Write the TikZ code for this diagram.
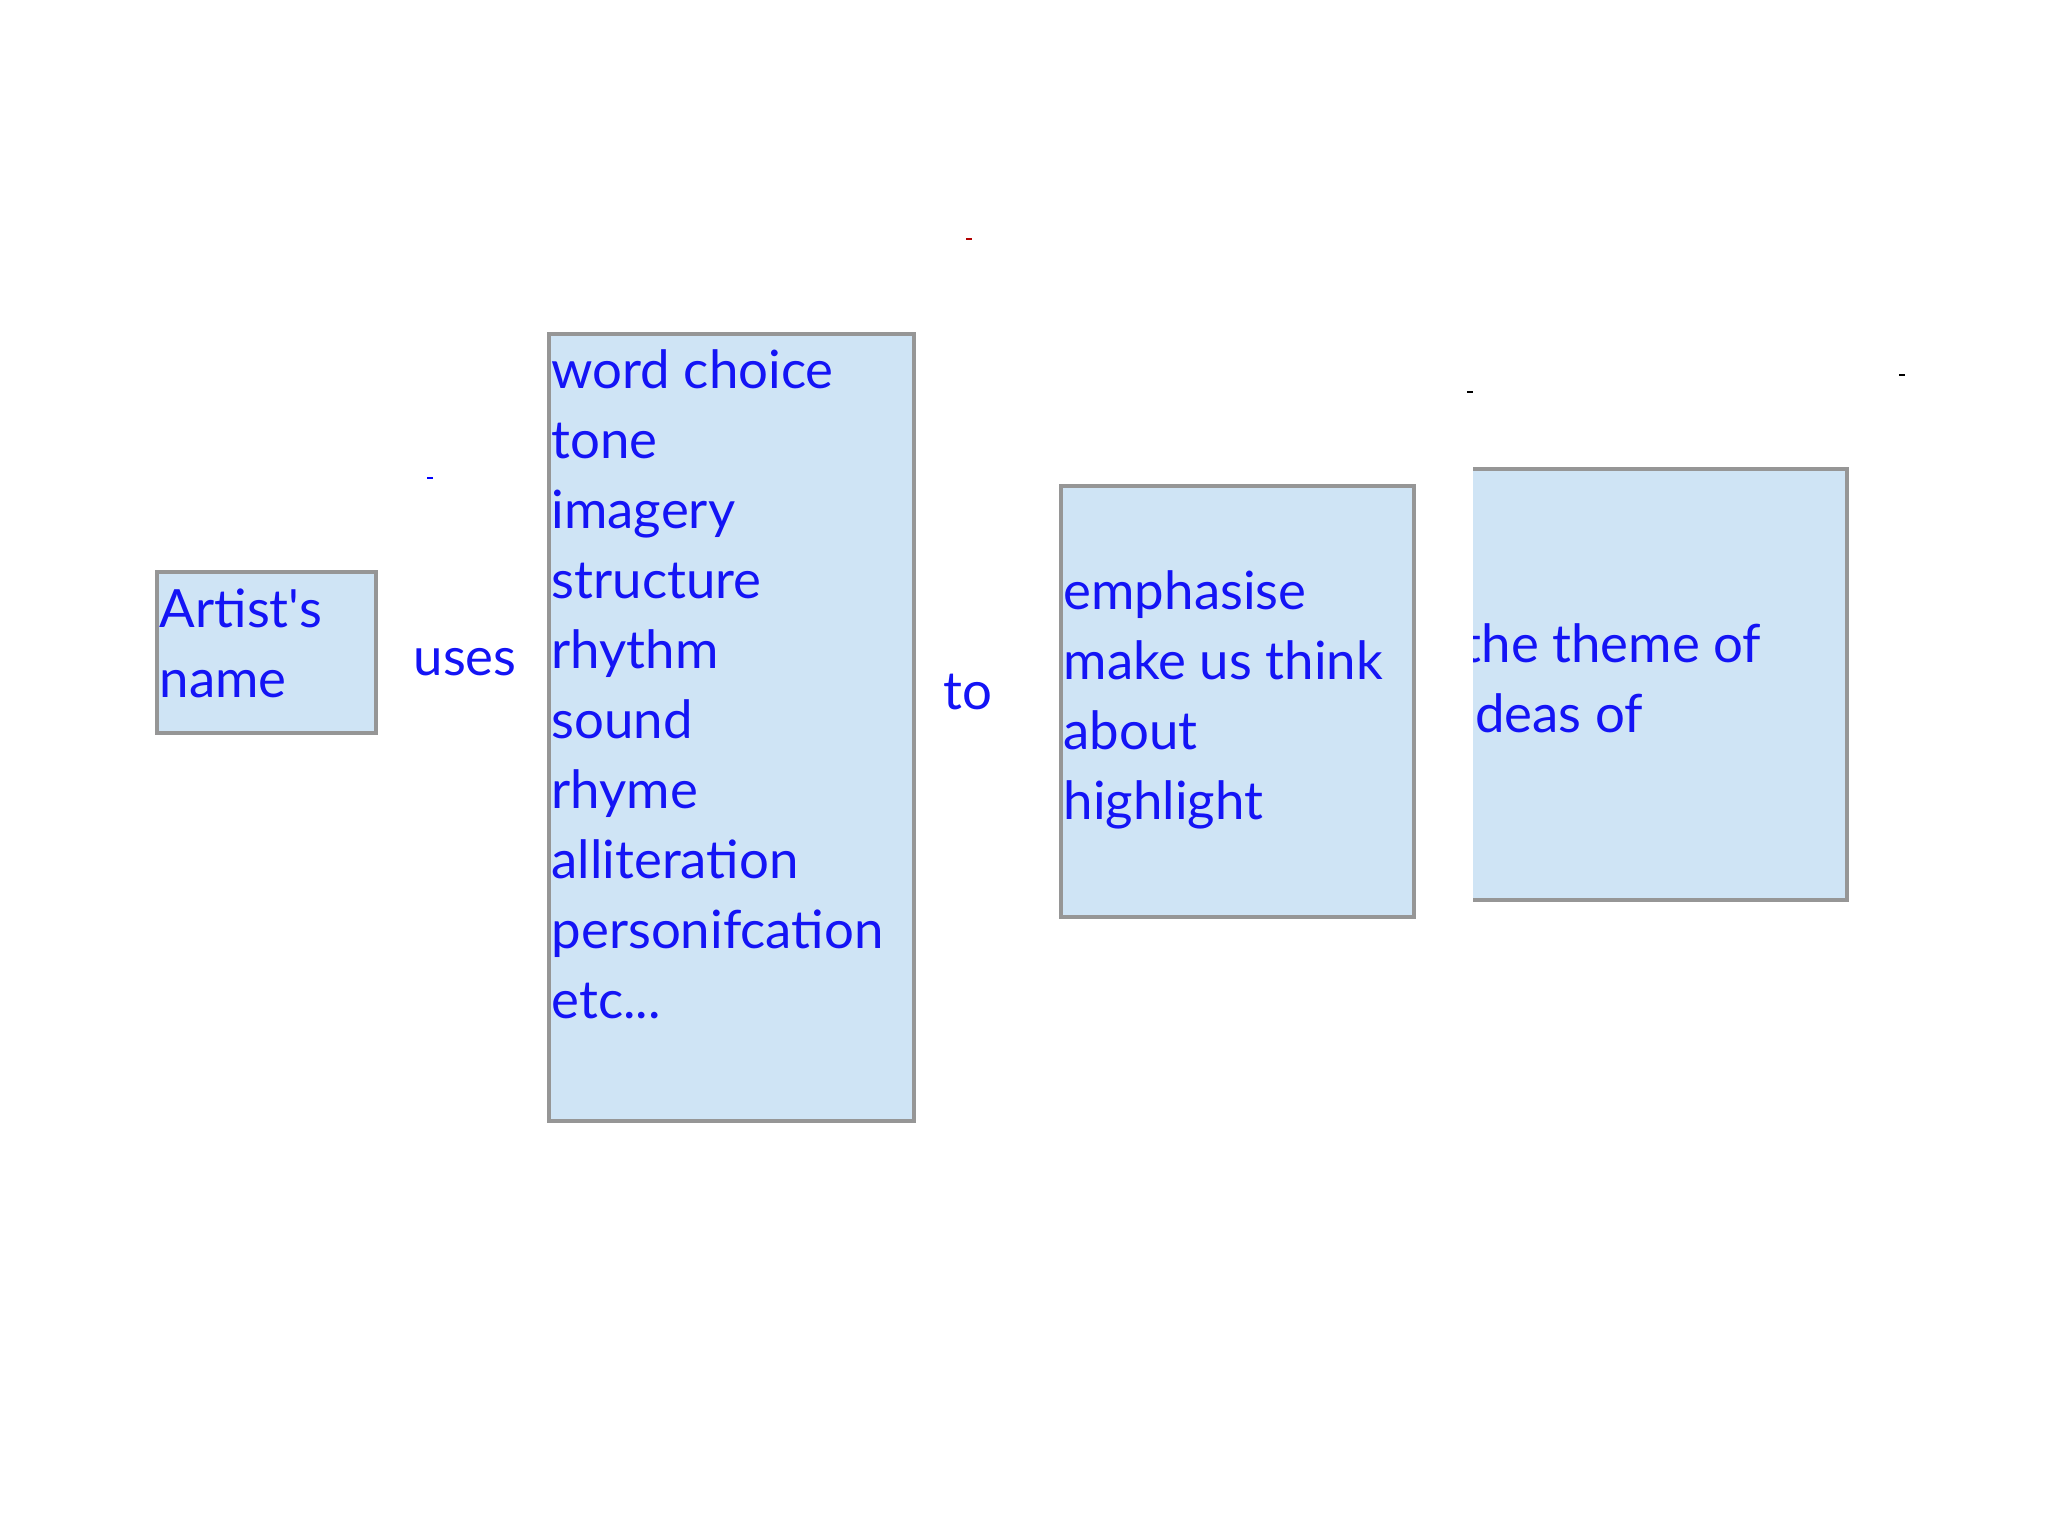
\documentclass[tikz,border=0pt]{standalone}
\usepackage{fontspec}
\setmainfont{Lato}
\definecolor{boxfill}{RGB}{207,228,245}
\definecolor{boxline}{RGB}{150,150,150}
\definecolor{txt}{RGB}{20,20,245}
\begin{document}
\begin{tikzpicture}[x=0.01cm,y=-0.01cm,
  panel/.style={draw=boxline,line width=1.2pt,fill=boxfill},
  lbl/.style={anchor=base west,inner sep=0pt,text=txt,font=\fontsize{15}{19.9}\selectfont},
  lst/.style={lbl,align=left}]
\useasboundingbox (0,0) rectangle (2048,1536);
\fill[white] (0,0) rectangle (2048,1536);
\draw[panel] (157,572) rectangle (376,733);
\draw[panel] (549,334) rectangle (914,1121);
\draw[panel] (1061,486) rectangle (1414,917);
\fill[boxfill] (1473,469) rectangle (1847,900);
\draw[boxline,line width=1.2pt] (1473,469) -- (1847,469) -- (1847,900) -- (1473,900);
\node[lst] (a) at (159,697) {Artist\textquotesingle s\\name};
\node[lbl] (u) at (413,675) {uses};
\node[lst] (l) at (551,1018) {word choice\\tone\\imagery\\structure\\rhythm\\sound\\rhyme\\alliteration\\personifcation\\etc...};
\node[lbl] (t) at (943,709) {to};
\node[lst] (e) at (1063,819) {emphasise\\make us think\\about\\highlight};
\begin{scope}
\clip (1473,469) rectangle (1847,900);
\node[lst] (th) at (1462,732) {the theme of\\ideas of};
\end{scope}
\draw[red!70!black] (966,239) -- (972,239);
\draw[blue] (427,478) -- (433,478);
\draw[black] (1467,392) -- (1473,392);
\draw[black] (1899,375) -- (1905,375);
\end{tikzpicture}
\end{document}
